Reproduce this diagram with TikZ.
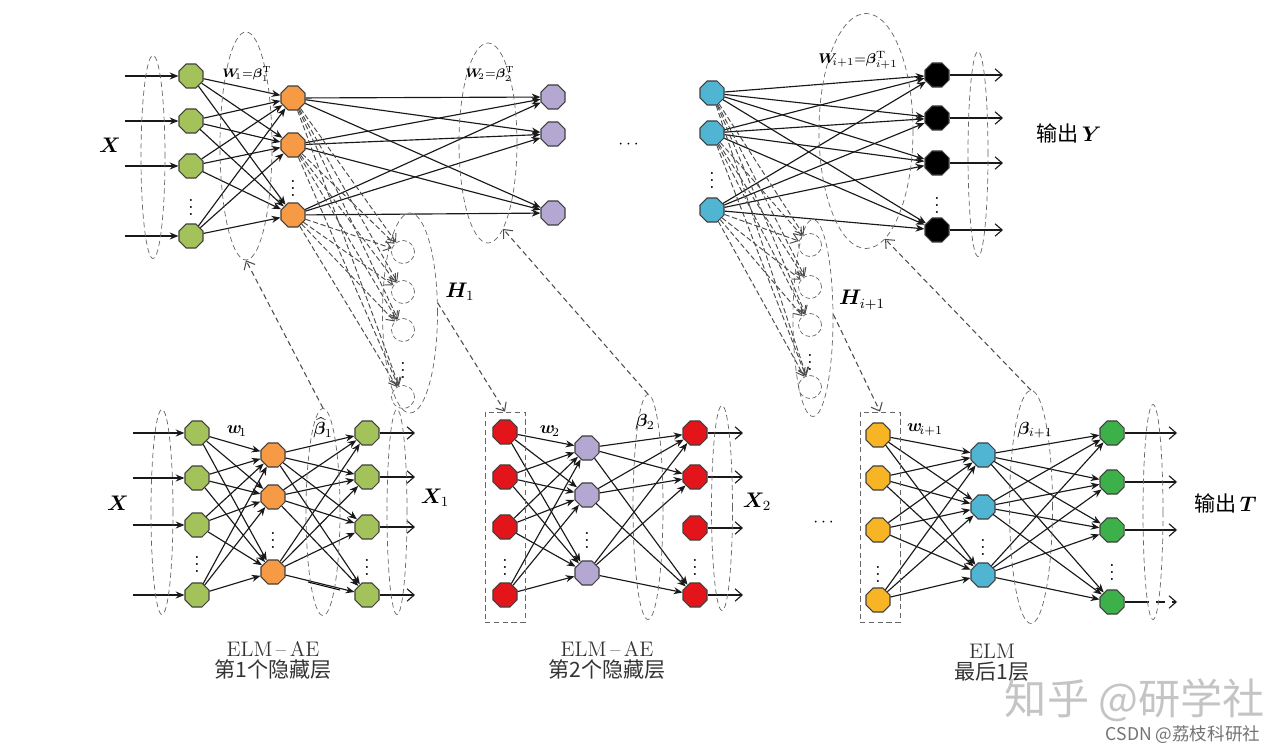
\documentclass[tikz,border=0pt]{standalone}
\usepackage{amsmath}
\usepackage{bm}
\usepackage{fontspec}
\newfontfamily\cjk{Noto Sans CJK SC}
\usepackage{tikz}
\usetikzlibrary{shapes.geometric,arrows.meta,positioning}

\definecolor{ngreen}{HTML}{A4C25A}
\definecolor{norange}{HTML}{F79A46}
\definecolor{npurple}{HTML}{B4A7D2}
\definecolor{ncyan}{HTML}{4FB5D2}
\definecolor{nred}{HTML}{E3151B}
\definecolor{nyellow}{HTML}{F7B425}
\definecolor{ndgreen}{HTML}{3DB049}
\definecolor{wmark}{HTML}{C4C4C4}

\tikzset{
  neuron/.style={regular polygon, regular polygon sides=8, minimum size=5.2mm,
    inner sep=0pt, draw=black!75, line width=0.6pt},
  hidc/.style={circle, draw=black!60, dash pattern=on 2.5pt off 1.5pt,
    minimum size=4.6mm, inner sep=0pt},
  link/.style={-{Stealth[length=5pt,width=4pt]}, line width=0.65pt, black!90},
  outarr/.style={-{Straight Barb[length=4pt,width=7pt]}, line width=0.65pt, black!90},
  grp/.style={ellipse, draw=black!60, dash pattern=on 3pt off 2pt, inner sep=0pt},
  gbox/.style={rectangle, draw=black!60, dash pattern=on 3pt off 2pt, inner sep=0pt},
  feed/.style={dash pattern=on 3pt off 2pt, draw=black!70, line width=0.6pt,
    -{Straight Barb[length=4pt,width=7pt]}},
  fan/.style={dash pattern=on 3pt off 1.5pt, draw=black!70, line width=0.55pt,
    -{Straight Barb[length=4pt,width=6pt]}},
  vdot/.style={font=\large, inner sep=0pt},
  lab/.style={font=\large},
  captext/.style={font=\large, align=center, text=black!80},
}

\begin{document}
\begin{tikzpicture}[x=0.2mm, y=-0.2mm]
  \useasboundingbox (0,0) rectangle (1288,753);

  % top: first stacked layer
  \foreach \n/\y in {1/76,2/121,3/166,4/236}{
    \node[neuron, fill=ngreen] (ta\n) at (191,\y) {};
    \coordinate (tx\n) at (125,\y);
    \draw[link] (tx\n) -- (ta\n);
  }
  \node[vdot] at (191,202) {$\vdots$};
  \foreach \n/\y in {1/98,2/145,3/215}
    \node[neuron, fill=norange] (tb\n) at (293,\y) {};
  \node[vdot] at (293,183) {$\vdots$};
  \foreach \n/\y in {1/97,2/134,3/213}
    \node[neuron, fill=npurple] (tc\n) at (553,\y) {};
  \foreach \i in {1,...,4}
    \foreach \j in {1,2,3}
      \draw[link] (ta\i) -- (tb\j);
  \foreach \i in {1,2,3}
    \foreach \j in {1,2,3}
      \draw[link] (tb\i) -- (tc\j);
  \node (tdots) at (630,145) {$\cdots$};

  % top: last stacked layer
  \foreach \n/\y in {1/93,2/133,3/210}
    \node[neuron, fill=ncyan] (td\n) at (712,\y) {};
  \node[vdot] at (712,175) {$\vdots$};
  \foreach \n/\y in {1/75,2/118,3/163,4/230}{
    \node[neuron, fill=black] (te\n) at (937,\y) {};
    \coordinate (ty\n) at (1003,\y);
    \draw[outarr] (te\n) -- (ty\n);
  }
  \node[vdot] at (937,200) {$\vdots$};
  \foreach \i in {1,2,3}
    \foreach \j in {1,...,4}
      \draw[link] (td\i) -- (te\j);

  % hidden outputs H
  \foreach \n/\y in {1/252,2/292,3/330,4/397}
    \node[hidc] (ha\n) at (403,\y) {};
  \node[vdot] at (403,365) {$\vdots$};
  \foreach \n/\y in {1/245,2/287,3/325,4/387}
    \node[hidc] (hb\n) at (810,\y) {};
  \node[vdot] at (810,357) {$\vdots$};
  \foreach \i in {1,2,3}
    \foreach \j in {1,...,4}{
      \draw[fan] (tb\i) -- (ha\j);
      \draw[fan] (td\i) -- (hb\j);
    }

  % top groups
  \node[grp, minimum width=4.8mm, minimum height=40.6mm] (gx) at (153,157) {};
  \node[grp, minimum width=10.4mm, minimum height=45.6mm] (gw1) at (246,146) {};
  \node[grp, minimum width=11.6mm, minimum height=40mm] (gw2) at (488,143) {};
  \node[grp, minimum width=18.8mm, minimum height=47mm] (gwi) at (866,131) {};
  \node[grp, minimum width=4mm, minimum height=41mm] (gy) at (978,154) {};
  \node[grp, minimum width=11mm, minimum height=40mm] (gh1) at (410,313) {};
  \node[grp, minimum width=8mm, minimum height=39.4mm] (gh2) at (813,318) {};

  \node[font=\scriptsize] at (247,74) {$\bm{W}_{\!1}{=}\bm{\beta}_1^{\mathrm{T}}$};
  \node[font=\scriptsize] at (490,74) {$\bm{W}_{\!2}{=}\bm{\beta}_2^{\mathrm{T}}$};
  \node[font=\footnotesize] at (858,60) {$\bm{W}_{\!i+1}{=}\bm{\beta}_{i+1}^{\mathrm{T}}$};
  \node[lab] at (110,145) {$\bm{X}$};
  \node[lab] at (460,292) {$\bm{H}_1$};
  \node[lab] at (862,300) {$\bm{H}_{i+1}$};
  \node[lab, anchor=west] at (1030,133) {\cjk 输出\,$\bm{Y}$};

  % bottom: ELM-AE 1
  \foreach \n/\y in {1/433,2/478,3/525,4/595}{
    \node[neuron, fill=ngreen] (ba\n) at (197,\y) {};
    \coordinate (bx\n) at (133,\y);
    \draw[link] (bx\n) -- (ba\n);
  }
  \node[vdot] at (197,559) {$\vdots$};
  \foreach \n/\y in {1/455,2/497,3/572}
    \node[neuron, fill=norange] (bb\n) at (273,\y) {};
  \node[vdot] at (273,535) {$\vdots$};
  \foreach \n/\y in {1/433,2/477,3/527,4/595}{
    \node[neuron, fill=ngreen] (bc\n) at (367,\y) {};
    \coordinate (by\n) at (415,\y);
    \draw[outarr] (bc\n) -- (by\n);
  }
  \node[vdot] at (367,562) {$\vdots$};
  \foreach \i in {1,...,4}
    \foreach \j in {1,2,3}{
      \draw[link] (ba\i) -- (bb\j);
      \draw[link] (bb\j) -- (bc\i);
    }
  \node[grp, minimum width=4.4mm, minimum height=41mm] (gbx) at (162,512) {};
  \node[grp, minimum width=6.8mm, minimum height=41.4mm] (gb1) at (323,512) {};
  \node[grp, minimum width=4mm, minimum height=41mm] (gbx1) at (397,512) {};
  \coordinate (s1) at (308,582);
  \coordinate (s2) at (340,590);
  \draw[line width=0.6pt] (s1) -- (s2);
  \node at (237,431) {$\bm{w}_{\!1}$};
  \node at (323,428) {$\widehat{\bm{\beta}}_1$};
  \node[lab] at (118,503) {$\bm{X}$};
  \node[lab] at (435,498) {$\bm{X}_1$};
  \node[captext] at (273,660) {ELM\,--\,AE\\[-2pt]{\cjk 第1个隐藏层}};

  % bottom: ELM-AE 2
  \foreach \n/\y in {1/432,2/477,3/527,4/595}
    \node[neuron, fill=nred] (ma\n) at (505,\y) {};
  \node[vdot] at (505,562) {$\vdots$};
  \foreach \n/\y in {1/448,2/495,3/573}
    \node[neuron, fill=npurple] (mb\n) at (587,\y) {};
  \node[vdot] at (587,535) {$\vdots$};
  \foreach \n/\y in {1/433,2/477,3/528,4/595}{
    \node[neuron, fill=nred] (mc\n) at (695,\y) {};
    \coordinate (my\n) at (743,\y);
    \draw[outarr] (mc\n) -- (my\n);
  }
  \node[vdot] at (695,562) {$\vdots$};
  \foreach \i in {1,...,4}
    \foreach \j in {1,2,3}
      \draw[link] (ma\i) -- (mb\j);
  \foreach \i in {1,2,3}
    \foreach \j in {1,2,4}
      \draw[link] (mb\i) -- (mc\j);
  \node[gbox, minimum width=8mm, minimum height=42mm] (rbox) at (505,517) {};
  \node[grp, minimum width=6mm, minimum height=45mm] (gb2) at (648,507) {};
  \node[grp, minimum width=4.2mm, minimum height=41mm] (gbx2) at (722,508) {};
  \node at (550,431) {$\bm{w}_{\!2}$};
  \node at (645,422) {$\bm{\beta}_2$};
  \node[lab] at (757,502) {$\bm{X}_2$};
  \node[captext] at (607,660) {ELM\,--\,AE\\[-2pt]{\cjk 第2个隐藏层}};

  % bottom: final ELM
  \node (bdots) at (825,523) {$\cdots$};
  \foreach \n/\y in {1/435,2/478,3/530,4/600}
    \node[neuron, fill=nyellow] (ra\n) at (878,\y) {};
  \node[vdot] at (878,569) {$\vdots$};
  \foreach \n/\y in {1/455,2/507,3/575}
    \node[neuron, fill=ncyan] (rb\n) at (983,\y) {};
  \node[vdot] at (983,542) {$\vdots$};
  \foreach \n/\y in {1/433,2/482,3/530,4/602}{
    \node[neuron, fill=ndgreen] (rc\n) at (1112,\y) {};
    \coordinate (ry\n) at (1177,\y);
  }
  \node[vdot] at (1112,567) {$\vdots$};
  \foreach \n in {1,2,3}
    \draw[outarr] (rc\n) -- (ry\n);
  \draw[outarr, dash pattern=on 14pt off 4pt on 5pt off 4pt] (rc4) -- (ry4);
  \foreach \i in {1,...,4}
    \foreach \j in {1,2,3}{
      \draw[link] (ra\i) -- (rb\j);
      \draw[link] (rb\j) -- (rc\i);
    }
  \node[gbox, minimum width=8mm, minimum height=42mm] (obox) at (880,517) {};
  \node[grp, minimum width=8.6mm, minimum height=46.6mm] (gbi) at (1031,507) {};
  \node[grp, minimum width=4mm, minimum height=43mm] (gt) at (1153,512) {};
  \node at (925,430) {$\bm{w}_{\!i+1}$};
  \node at (1035,430) {$\bm{\beta}_{i+1}$};
  \node[lab, anchor=west] at (1188,503) {\cjk 输出\,$\bm{T}$};
  \node[captext] at (992,663) {ELM\\[-2pt]{\cjk 最后1层}};

  % links between the stages
  \draw[feed] (gb1.north) -- (gw1.south);
  \draw[feed] (gh1.20) -- (rbox.north);
  \draw[feed] (gb2.north) -- (gw2.-80);
  \draw[feed] (gh2.10) -- (obox.north);
  \draw[feed] (gbi.north) -- (gwi.-80);

  % watermark
  \node[text=wmark, font=\cjk\fontsize{24}{26}\selectfont] at (1135,700) {知乎\ @研学社};
  \node[text=black!55, font=\cjk\fontsize{10}{12}\selectfont] at (1183,735) {CSDN @荔枝科研社};
\end{tikzpicture}
\end{document}
